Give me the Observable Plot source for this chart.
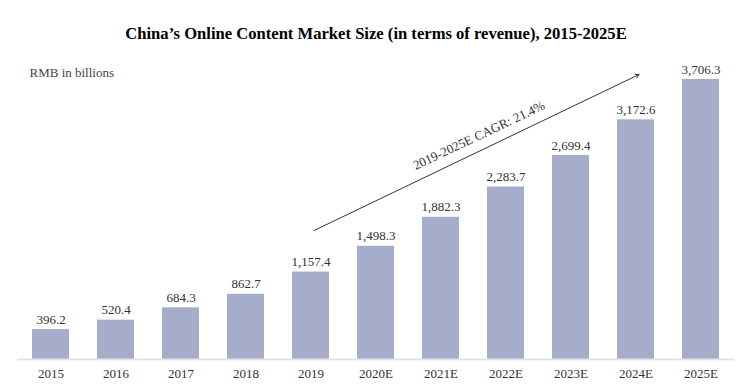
<!DOCTYPE html>
<html>
<head>
<meta charset="utf-8">
<script src="https://cdn.jsdelivr.net/npm/d3@7"></script>
<script src="https://cdn.jsdelivr.net/npm/@observablehq/plot@0.6"></script>
<style>
  html, body { margin: 0; padding: 0; background: #fff; }
  #chart svg { display: block; }
</style>
</head>
<body>
<div id="chart"></div>
<script>
const years = ["2015","2016","2017","2018","2019","2020E","2021E","2022E","2023E","2024E","2025E"];
const revenue = [396.2, 520.4, 684.3, 862.7, 1157.4, 1498.3, 1882.3, 2283.7, 2699.4, 3172.6, 3706.3];
const labels = ["396.2","520.4","684.3","862.7","1,157.4","1,498.3","1,882.3","2,283.7","2,699.4","3,172.6","3,706.3"];
const title = "China\u2019s Online Content Market Size (in terms of revenue), 2015-2025E";
const unitLabel = "RMB in billions";
const cagrLabel = "2019-2025E CAGR: 21.4%";
const arrowData = [{x1: "2019", y1: 1707, x2: "2024E", y2: 3772}];
const cagrPos = [{x: "2021E", y: 2965}];

const data = years.map((y, i) => ({year: y, value: revenue[i], label: labels[i]}));
const font = "Liberation Serif, Times New Roman, serif";

const chart = Plot.plot({
  width: 748,
  height: 391,
  marginTop: 79,
  marginBottom: 32,
  marginLeft: 17,
  marginRight: 14,
  style: {fontFamily: font, background: "#fff"},
  x: {domain: years, paddingInner: 0.43, paddingOuter: 0.215, label: null, tickSize: 0, tickPadding: 9},
  y: {domain: [0, 3706.3], axis: null},
  marks: [
    Plot.barY(data, {x: "year", y: "value", fill: "#a5adca"}),
    Plot.ruleY([0], {stroke: "#e3e3e3", strokeWidth: 2}),
    Plot.text(data, {x: "year", y: "value", text: "label", dy: -10, fontSize: 13, fill: "#333"}),
    Plot.axisX({tickSize: 0, tickPadding: 9, fontSize: 13, color: "#333", label: null}),
    Plot.arrow(arrowData, {x1: "x1", y1: "y1", x2: "x2", y2: "y2", dx: 3, stroke: "#333", strokeWidth: 1, headLength: 6, insetStart: 0, insetEnd: 0}),
    Plot.text(cagrPos, {x: "x", y: "y", dx: 38, text: () => cagrLabel, rotate: -25.3, fontSize: 13, fill: "#333"}),
    Plot.text([title], {frameAnchor: "top", dy: -52, fontSize: 16.6, fontWeight: "bold", fill: "#000"}),
    Plot.text([unitLabel], {frameAnchor: "top-left", dx: 12, dy: -12, textAnchor: "start", fontSize: 13, fill: "#444"})
  ]
});
document.getElementById("chart").appendChild(chart);
</script>
</body>
</html>
